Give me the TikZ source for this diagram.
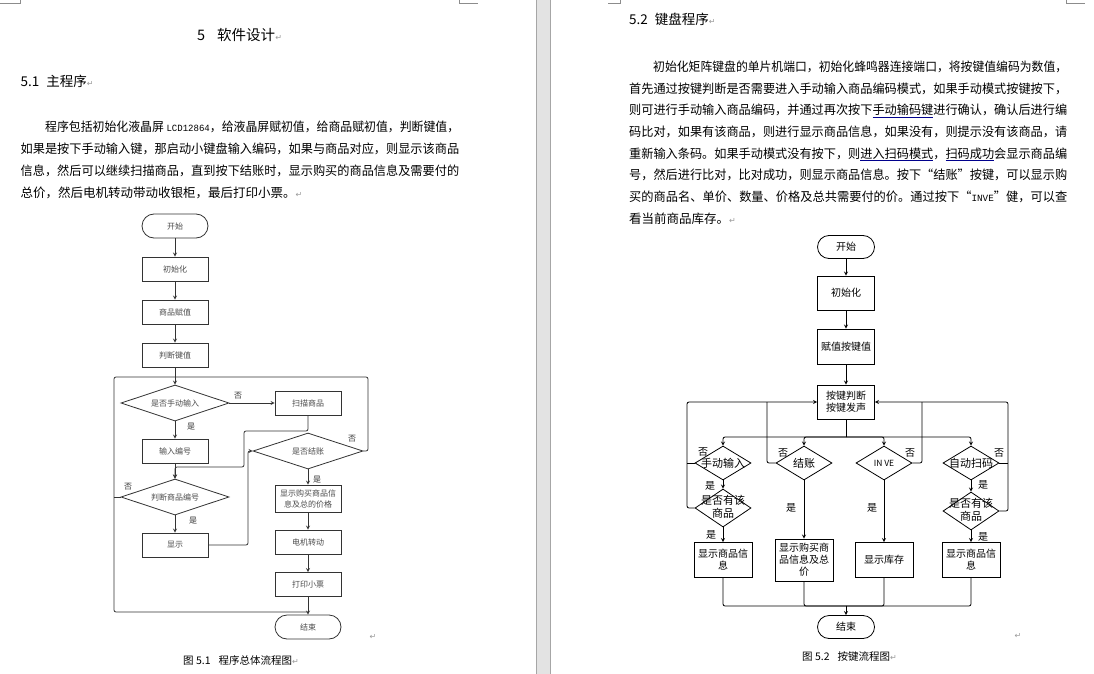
\documentclass[tikz,border=0pt]{standalone}
\usepackage{graphicx}
\usepackage{fontspec}
\setmainfont{Noto Sans CJK SC}
\newfontfamily\monofont{Liberation Mono}
\newfontfamily\symfont{DejaVu Sans}
\usetikzlibrary{shapes.geometric}

\newcommand{\bodyfont}{\fontsize{12.5}{21.8}\selectfont}
\newcommand{\lfont}{\fontsize{8}{11}\selectfont}
\newcommand{\rfont}{\fontsize{10}{12}\selectfont}
\newcommand{\ret}{{\symfont\fontsize{8}{8}\selectfont\color{black!40}↵}}
\newcommand{\fitline}[2]{\resizebox{#1}{\height}{#2}}
\newcommand{\gramline}[1]{\setbox0\hbox{#1}\rlap{\color{blue!55!black}\rule[-2.8pt]{\wd0}{0.7pt}}\box0}
\newcommand{\ctr}[1]{\makebox[0pt]{#1}}
\newcommand{\two}[2]{\makebox[0pt]{\begin{tabular}{@{}c@{}}#1\\#2\end{tabular}}}
\newcommand{\mono}[1]{{\monofont\fontsize{9.5}{10}\selectfont #1}}

\tikzset{
  txtline/.style={anchor=base west, inner sep=0pt, font=\bodyfont},
  % left chart
  lbox/.style={draw=black!80, line width=0.8pt, minimum width=66pt, minimum height=24pt, inner sep=0pt, font=\lfont, text=black!70, align=center},
  lterm/.style={lbox, rounded corners=12pt},
  ldec/.style={diamond, draw=black!80, line width=0.8pt, minimum width=108pt, minimum height=36pt, inner sep=0pt, font=\lfont, text=black!70},
  lcon/.style={draw=black!80, line width=0.8pt, rounded corners=2pt},
  llab/.style={font=\lfont, text=black!80, inner sep=0pt},
  % right chart
  rbox/.style={draw, line width=0.8pt, minimum width=57pt, minimum height=34pt, inner sep=0pt, font=\rfont, align=center},
  rterm/.style={rbox, minimum height=23pt, rounded corners=11.5pt},
  rdec/.style={diamond, draw, line width=0.8pt, minimum width=56pt, minimum height=34pt, inner sep=0pt, font=\fontsize{11}{13}\selectfont},
  rcon/.style={draw, line width=0.8pt, rounded corners=2pt},
  rlab/.style={font=\rfont, inner sep=0pt}
}

\begin{document}
\begin{tikzpicture}[x=1pt, y=-1pt, >=stealth]
\useasboundingbox (0,0) rectangle (1094,674);
\fill[white] (0,0) rectangle (1094,674);
%gap between the pages
\fill[black!11] (536,0) rectangle (551,674);
\draw[black!35] (536.5,0) -- (536.5,674);
\draw[black!35] (550.5,0) -- (550.5,674);
%corner marks
\draw[black!45, line width=0.6pt] (0,3.5) -- (20,3.5) -- (20,0);
\draw[black!45, line width=0.6pt] (459,0) -- (459,3.5) -- (478,3.5);
\draw[black!45, line width=0.6pt] (608,3.5) -- (620,3.5) -- (620,0);
\draw[black!45, line width=0.6pt] (1066,0) -- (1066,3.5) -- (1085,3.5);

%left page text
\node[anchor=base west, inner sep=0pt, font=\fontsize{14.5}{16}\selectfont] (h5) at (197,41) {5\hspace{12pt}软件设计\ret};
\node[anchor=base west, inner sep=0pt, font=\fontsize{13.5}{15}\selectfont] (h51) at (20.5,87) {5.1\hspace{7pt}主程序\ret};
\node[txtline] (lp1) at (45,131.8) {\fitline{414pt}{程序包括初始化液晶屏 \mono{LCD12864}，给液晶屏赋初值，给商品赋初值，判断键值，}};
\node[txtline] (lp2) at (20.5,153.7) {\fitline{438.5pt}{如果是按下手动输入键，那启动小键盘输入编码，如果与商品对应，则显示该商品}};
\node[txtline] (lp3) at (20.5,175.6) {\fitline{438.5pt}{信息，然后可以继续扫描商品，直到按下结账时，显示购买的商品信息及需要付的}};
\node[txtline] (lp4) at (20.5,197.5) {总价，然后电机转动带动收银柜，最后打印小票。\ret};

%right page text
\node[anchor=base west, inner sep=0pt, font=\fontsize{13.5}{15}\selectfont] (h52) at (629,25) {5.2\hspace{7pt}键盘程序\ret};
\node[txtline] (rp1) at (653,71.4) {\fitline{414pt}{初始化矩阵键盘的单片机端口，初始化蜂鸣器连接端口，将按键值编码为数值，}};
\node[txtline] (rp2) at (629,93.1) {\fitline{438pt}{首先通过按键判断是否需要进入手动输入商品编码模式，如果手动模式按键按下，}};
\node[txtline] (rp3) at (629,114.7) {\fitline{438pt}{则可进行手动输入商品编码，并通过再次按下\gramline{手动输码键}进行确认，确认后进行编}};
\node[txtline] (rp4) at (629,136.4) {\fitline{438pt}{码比对，如果有该商品，则进行显示商品信息，如果没有，则提示没有该商品，请}};
\node[txtline] (rp5) at (629,158.1) {\fitline{438pt}{重新输入条码。如果手动模式没有按下，则\gramline{进入扫码模式}，\gramline{扫码成功}会显示商品编}};
\node[txtline] (rp6) at (629,179.7) {\fitline{438pt}{号，然后进行比对，比对成功，则显示商品信息。按下“结账”按键，可以显示购}};
\node[txtline] (rp7) at (629,201.4) {\fitline{438pt}{买的商品名、单价、数量、价格及总共需要付的价。通过按下“\mono{INVE}”健，可以查}};
\node[txtline] (rp8) at (629,223) {看当前商品库存。\ret};

%left chart
\node[lterm] (lstart) at (175,226) {开始};
\node[lbox] (linit) at (175,269) {初始化};
\node[lbox] (lgoods) at (175,312) {商品赋值};
\node[lbox] (lkey) at (175,355) {判断键值};
\node[ldec] (lmanual) at (175,403) {\ctr{是否手动输入}};
\node[lbox] (lscan) at (308,403) {扫描商品};
\node[lbox] (linput) at (175,451) {输入编号};
\node[ldec] (lcode) at (175,497) {\ctr{判断商品编号}};
\node[lbox] (lshow) at (175,545) {显示};
\node[ldec, minimum width=110pt] (lpay) at (308,451) {\ctr{是否结账}};
\node[lbox, minimum height=27pt] (lsum) at (308,498.5) {显示购买商品信\\息及总的价格};
\node[lbox] (lmotor) at (308,542) {电机转动};
\node[lbox] (lprint) at (308,584.5) {打印小票};
\node[lterm] (lend) at (308,627) {结束};
\coordinate (ltr) at (368,377);
\coordinate (ltl) at (114,377);
\coordinate (lbl) at (114,612);
\coordinate (lbr) at (308,612);

\draw[lcon,->] (lstart) -- (linit);
\draw[lcon,->] (linit) -- (lgoods);
\draw[lcon,->] (lgoods) -- (lkey);
\draw[lcon,->] (lkey) -- (lmanual);
\draw[lcon,->] (lmanual) -- (lscan);
\draw[lcon,->] (lmanual) -- (linput);
\draw[lcon,->] (linput) -- (lcode);
\draw[lcon,->] (lcode) -- (lshow);
\draw[lcon,->] (lscan.south) |- (244,431) |- (175,467) -- (lcode.north);
\draw[lcon] (lpay.east) -| (ltr) -- (ltl) -- (lbl) -- (lbr);
\draw[lcon] (lcode.west) -- (lcode.west -| ltl);
\draw[lcon,->] (lshow.east) -| (248,451) -- (lpay.west);
\draw[lcon,->] (lpay) -- (lsum);
\draw[lcon,->] (lsum) -- (lmotor);
\draw[lcon,->] (lmotor) -- (lprint);
\draw[lcon,->] (lprint) -- (lend);

\node[llab] at (238,396) {否};
\node[llab] at (191,427) {是};
\node[llab] at (128,487) {否};
\node[llab] at (193,521) {是};
\node[llab] at (317,480) {是};
\node[llab] at (352,439) {否};
\node[inner sep=0pt] at (373,637) {\ret};
\node[anchor=base west, inner sep=0pt, font=\fontsize{10.5}{12}\selectfont] (cap1) at (183,664) {图 5.1\hspace{8pt}程序总体流程图\ret};

%right chart
\node[rterm] (rstart) at (846,247) {开始};
\node[rbox] (rinit) at (846,293) {初始化};
\node[rbox, minimum height=35pt] (rset) at (846,346.5) {赋值按键值};
\node[rbox] (rkey) at (846,402) {按键判断\\按键发声};
\node[rdec] (rman) at (723,463) {\ctr{手动输入}};
\node[rdec] (rpay) at (804,463) {\ctr{结账}};
\node[rdec] (rinve) at (884,463) {\ctr{\fontsize{8.5}{9}\selectfont IN VE}};
\node[rdec] (rauto) at (971,463) {\ctr{自动扫码}};
\node[rdec, minimum height=38pt] (rhas1) at (723,508) {\two{是否有该}{商品}};
\node[rdec, minimum height=38pt] (rhas2) at (971,511) {\two{是否有该}{商品}};
\node[rbox, minimum width=58pt, minimum height=35pt] (rshow1) at (723,560) {显示商品信\\息};
\node[rbox, minimum width=58pt, minimum height=42pt] (rsum) at (804,560) {显示购买商\\品信息及总\\价};
\node[rbox, minimum width=58pt, minimum height=35pt] (rstock) at (884,560) {显示库存};
\node[rbox, minimum width=58pt, minimum height=35pt] (rshow2) at (971,560) {显示商品信\\息};
\node[rterm] (rend) at (846,627) {结束};
\coordinate (rsplit) at (846,437);
\coordinate (rjoin) at (846,606);

\draw[rcon,->] (rstart) -- (rinit);
\draw[rcon,->] (rinit) -- (rset);
\draw[rcon,->] (rset) -- (rkey);
\draw[rcon] (rkey) -- (rsplit);
\draw[rcon,->] (rsplit) -| (rman.north);
\draw[rcon,->] (rsplit) -| (rpay.north);
\draw[rcon,->] (rsplit) -| (rinve.north);
\draw[rcon,->] (rsplit) -| (rauto.north);
\draw[rcon,->] (rman) -- (rhas1);
\draw[rcon,->] (rhas1) -- (rshow1);
\draw[rcon,->] (rpay) -- (rsum);
\draw[rcon,->] (rinve) -- (rstock);
\draw[rcon,->] (rauto) -- (rhas2);
\draw[rcon,->] (rhas2) -- (rshow2);
%back to the key test
\draw[rcon,->] (rhas1.west) -- (687,508) |- (rkey.west);
\draw[rcon] (rman.west) -- (687,463);
\draw[rcon] (rpay.west) -| (767,402);
\draw[rcon,->] (rhas2.east) -- (1008,511) |- (rkey.east);
\draw[rcon] (rauto.east) -- (1008,463);
\draw[rcon] (rinve.east) -| (922,402);
%to the end
\draw[rcon] (rshow1.south) |- (rjoin);
\draw[rcon] (rsum.south) |- (rjoin);
\draw[rcon] (rstock.south) |- (rjoin);
\draw[rcon] (rshow2.south) |- (rjoin);
\draw[rcon,->] (rjoin) -- (rend);

\node[rlab] at (703,452) {否};
\node[rlab] at (783,453) {否};
\node[rlab] at (910,453) {否};
\node[rlab] at (999,453) {否};
\node[rlab] at (710,486) {是};
\node[rlab] at (711,535) {是};
\node[rlab] at (791,508) {是};
\node[rlab] at (872,508) {是};
\node[rlab] at (983,485) {是};
\node[rlab] at (983,537) {是};
\node[inner sep=0pt] at (1018,636) {\ret};
\node[anchor=base west, inner sep=0pt, font=\fontsize{10.5}{12}\selectfont] (cap2) at (802,660) {图 5.2\hspace{8pt}按键流程图\ret};

\end{tikzpicture}
\end{document}
